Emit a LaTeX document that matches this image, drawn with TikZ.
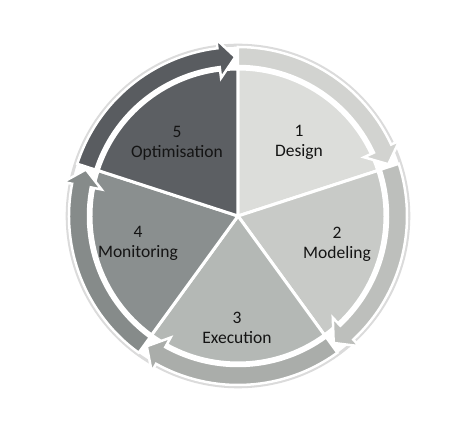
\documentclass[tikz,border=0pt]{standalone}
\usepackage{fontspec}
\setmainfont{Carlito}
\definecolor{designGray}{HTML}{DCDDDA}
\definecolor{designRing}{HTML}{D2D3D0}
\definecolor{modelGray}{HTML}{C8CAC7}
\definecolor{modelRing}{HTML}{BDBFBC}
\definecolor{execGray}{HTML}{B4B8B5}
\definecolor{execRing}{HTML}{AAADAA}
\definecolor{monitorGray}{HTML}{8A8F8F}
\definecolor{monitorRing}{HTML}{868B8A}
\definecolor{optimGray}{HTML}{5C5F63}
\definecolor{optimRing}{HTML}{595C60}
\begin{document}
\begin{tikzpicture}[x=1pt,y=1pt,%%
  wedgeStyle/.style={draw=white,line width=3pt,line join=round},%%
  ringStyle/.style={draw=white,line width=2.5pt,line join=miter},%%
  labelStyle/.style={align=center,text=black!92,font=\fontsize{17.5}{20}\selectfont}%%
]
%%
%%
\pgfmathsetmacro{\rW}{147}
\pgfmathsetmacro{\rA}{150}
\pgfmathsetmacro{\rB}{169}
\pgfmathsetmacro{\rBi}{139}
\pgfmathsetmacro{\rBo}{178}
\pgfmathsetmacro{\rT}{159}
%%
%% Picture frame, centre of the wheel at the origin.
\useasboundingbox (-238,-217) rectangle (236,216);
%%
%% Soft edge round the wheel.
\draw[black!14,line width=3pt] (0,0) circle (\rB pt+1.8pt);
%%
%% Segment 1: Design.
\fill[designGray,wedgeStyle] (0,0) -- (90:\rW pt)
  arc[start angle=90,end angle=18,radius=\rW pt] -- cycle;
\fill[designRing,ringStyle] (90:\rA pt)
  arc[start angle=90,end angle=25,radius=\rA pt] -- (25:\rBi pt)
  -- (19:\rT pt) -- (25:\rBo pt) -- (25:\rB pt)
  arc[start angle=25,end angle=90,radius=\rB pt] -- cycle;
\node[labelStyle] (design) at (61,74) {1\\Design};
%%
%% Segment 2: Modeling.
\fill[modelGray,wedgeStyle] (0,0) -- (18:\rW pt)
  arc[start angle=18,end angle=-54,radius=\rW pt] -- cycle;
\fill[modelRing,ringStyle] (18:\rA pt)
  arc[start angle=18,end angle=-47,radius=\rA pt] -- (-47:\rBi pt)
  -- (-53:\rT pt) -- (-47:\rBo pt) -- (-47:\rB pt)
  arc[start angle=-47,end angle=18,radius=\rB pt] -- cycle;
\node[labelStyle] (modeling) at (99,-28) {2\\Modeling};
%%
%% Segment 3: Execution.
\fill[execGray,wedgeStyle] (0,0) -- (-54:\rW pt)
  arc[start angle=-54,end angle=-126,radius=\rW pt] -- cycle;
\fill[execRing,ringStyle] (-54:\rA pt)
  arc[start angle=-54,end angle=-119,radius=\rA pt] -- (-119:\rBi pt)
  -- (-125:\rT pt) -- (-119:\rBo pt) -- (-119:\rB pt)
  arc[start angle=-119,end angle=-54,radius=\rB pt] -- cycle;
\node[labelStyle] (execution) at (-1,-112) {3\\Execution};
%%
%% Segment 4: Monitoring.
\fill[monitorGray,wedgeStyle] (0,0) -- (-126:\rW pt)
  arc[start angle=-126,end angle=-198,radius=\rW pt] -- cycle;
\fill[monitorRing,ringStyle] (-126:\rA pt)
  arc[start angle=-126,end angle=-191,radius=\rA pt] -- (-191:\rBi pt)
  -- (-197:\rT pt) -- (-191:\rBo pt) -- (-191:\rB pt)
  arc[start angle=-191,end angle=-126,radius=\rB pt] -- cycle;
\node[labelStyle] (monitoring) at (-100,-27) {4\\Monitoring};
%%
%% Segment 5: Optimisation.
\fill[optimGray,wedgeStyle] (0,0) -- (162:\rW pt)
  arc[start angle=162,end angle=90,radius=\rW pt] -- cycle;
\fill[optimRing,ringStyle] (162:\rA pt)
  arc[start angle=162,end angle=97,radius=\rA pt] -- (97:\rBi pt)
  -- (91:\rT pt) -- (97:\rBo pt) -- (97:\rB pt)
  arc[start angle=97,end angle=162,radius=\rB pt] -- cycle;
\node[labelStyle] (optimisation) at (-61,73) {5\\Optimisation};
\end{tikzpicture}
\end{document}
